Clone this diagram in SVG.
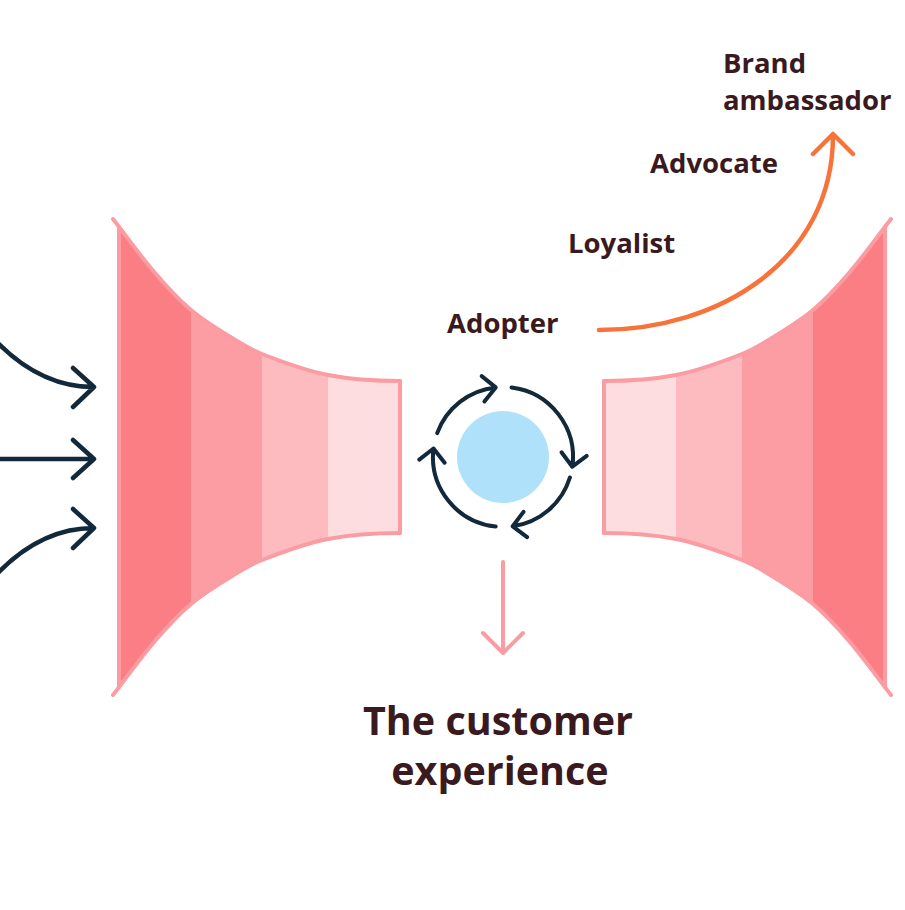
<svg xmlns="http://www.w3.org/2000/svg" width="905" height="910" viewBox="0 0 905 910">
  <style>
    .edge { fill: none; stroke: #fb9ca2; stroke-width: 4; stroke-linecap: round; stroke-linejoin: round; }
    .navy { fill: none; stroke: #12293b; stroke-width: 4.5; stroke-linecap: round; stroke-linejoin: round; }
    .cycle { fill: none; stroke: #12293b; stroke-width: 4; stroke-linecap: round; stroke-linejoin: round; }
    .orange { fill: none; stroke: #f8733a; stroke-width: 4.5; stroke-linecap: round; stroke-linejoin: round; }
    .pink { fill: none; stroke: #fb9ca2; stroke-width: 4; stroke-linecap: round; stroke-linejoin: round; }
    .label { font-family: "Open Sans", "Noto Sans", "Liberation Sans", sans-serif; font-weight: 700; fill: #3a1a1e; }
    .stage { font-size: 27.5px; }
    .title { font-size: 39.5px; text-anchor: middle; }
  </style>
  <defs>
    <clipPath id="funnel-clip">
      <path d="M113,219 C127,237 140.2,255.7 155,273 C166.2,286.1 177.9,298.9 191,310 C203,320.2 216.6,328.4 230,336.7 C240.3,343.1 250.7,349.6 262,354 C283.5,362.4 305.3,370.6 328,375 C351.6,379.6 375.9,381 400,381 L400,533 C375.9,533 351.6,534.4 328,539 C305.3,543.4 283.5,551.6 262,560 C250.7,564.4 240.3,570.9 230,577.3 C216.6,585.6 203,593.8 191,604 C177.9,615.1 166.2,627.9 155,641 C140.2,658.3 127,677 113,695 Z"/>
    </clipPath>
    <!-- one funnel half; the other is its mirror image -->
    <g id="funnel-shape">
      <g clip-path="url(#funnel-clip)">
        <rect x="119" y="200" width="72" height="520" fill="#fb7e85"/>
        <rect x="191" y="200" width="71" height="520" fill="#fb9da3"/>
        <rect x="262" y="200" width="66" height="520" fill="#fdbbbf"/>
        <rect x="328" y="200" width="72" height="520" fill="#fddde0"/>
      </g>
      <path class="edge" d="M113,219 C127,237 140.2,255.7 155,273 C166.2,286.1 177.9,298.9 191,310 C203,320.2 216.6,328.4 230,336.7 C240.3,343.1 250.7,349.6 262,354 C283.5,362.4 305.3,370.6 328,375 C351.6,379.6 375.9,381 400,381"/>
      <path class="edge" d="M113,695 C127,677 140.2,658.3 155,641 C166.2,627.9 177.9,615.1 191,604 C203,593.8 216.6,585.6 230,577.3 C240.3,570.9 250.7,564.4 262,560 C283.5,551.6 305.3,543.4 328,539 C351.6,534.4 375.9,533 400,533"/>
      <path class="edge" d="M119,227 V687"/>
      <path class="edge" d="M400,381 V533"/>
    </g>
  </defs>

  <g id="funnel-left">
    <use href="#funnel-shape"/>
  </g>
  <g id="funnel-right">
    <use href="#funnel-shape" transform="translate(1004,0) scale(-1,1)"/>
  </g>

  <g id="customer-cycle">
    <circle cx="503" cy="457" r="46" fill="#b0e1fb"/>
    <path class="cycle" d="M437.2,433.1 A70,70 0 0 1 495.7,387.4 M481.7,376.1 L495.7,387.4 L484.4,401.4"/>
    <path class="cycle" d="M511.5,387.5 A70,70 0 0 1 572.3,466.7 M586.7,455.9 L572.3,466.7 L561.5,452.3"/>
    <path class="cycle" d="M569.9,477.5 A70,70 0 0 1 512.7,526.3 M527.1,537.1 L512.7,526.3 L523.5,511.9"/>
    <path class="cycle" d="M495.7,526.6 A70,70 0 0 1 433.5,448.5 M419.3,459.6 L433.5,448.5 L444.6,462.7"/>
  </g>

  <g id="connectors">
    <!-- incoming arrows on the left -->
    <path class="navy" d="M-5,340 Q40,387 94,387 M73,368 L94,387 L73,407"/>
    <path class="navy" d="M-5,459 H94 M73,440 L94,459 L73,478"/>
    <path class="navy" d="M-5,576 Q40,528 94,528 M73,509 L94,528 L73,548"/>
    <!-- growth arrow -->
    <path class="orange" d="M599,330 C720,330 833,260 833,135 M813,154 L833,134 L853,154"/>
    <!-- down arrow to the title -->
    <path class="pink" d="M503,562 V653 M483,633 L503,653 L523,633"/>
  </g>

  <g id="label-adopter"><text class="label stage" x="447" y="333">Adopter</text></g>
  <g id="label-loyalist"><text class="label stage" x="568" y="253">Loyalist</text></g>
  <g id="label-advocate"><text class="label stage" x="650" y="173">Advocate</text></g>
  <g id="label-ambassador">
    <text class="label stage" x="723" y="73">Brand</text>
    <text class="label stage" x="723" y="110">ambassador</text>
  </g>
  <g id="title">
    <text class="label title" x="498" y="735">The customer</text>
    <text class="label title" x="500" y="785">experience</text>
  </g>
</svg>
